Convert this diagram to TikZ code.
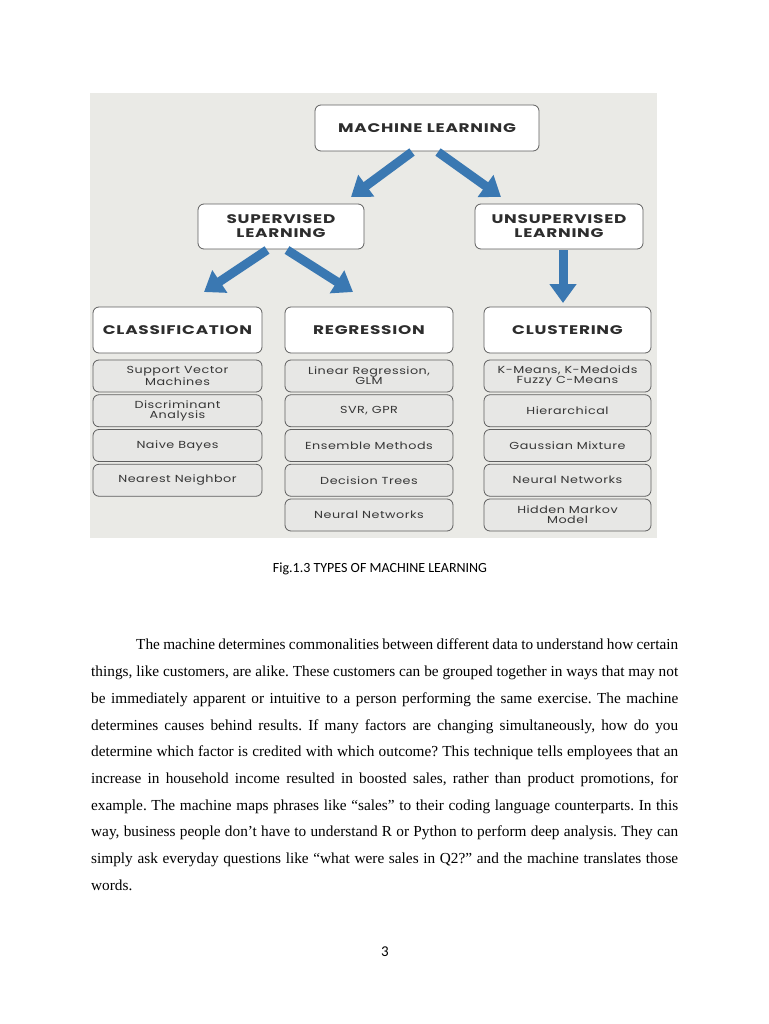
\documentclass[tikz,border=0pt]{standalone}
\usepackage{fontspec}
\setmainfont{Liberation Serif}
\newfontfamily\capfont{Carlito}
\newfontfamily\headfont[FakeStretch=1.35,LetterSpace=6]{Poppins}
\newfontfamily\itemfont[FakeStretch=1.25,LetterSpace=5]{Poppins}
\usepackage{tikz}
\usetikzlibrary{arrows.meta,positioning,calc}
\definecolor{mlblue}{RGB}{58,120,178}
\definecolor{panelgray}{RGB}{234,234,230}
\definecolor{rowgray}{RGB}{231,231,229}
\definecolor{boxline}{RGB}{95,95,95}
\definecolor{headtext}{RGB}{45,45,45}
\definecolor{itemtext}{RGB}{55,55,55}

\begin{document}
\frenchspacing
\begin{tikzpicture}[x=1pt, y=-1pt]
	\tikzstyle{box}=[draw=boxline, line width=0.8pt, rounded corners=6pt,
		fill=white, outer sep=0pt, align=center]
	\tikzstyle{headbox}=[box, text=headtext, minimum height=46pt,
		font=\headfont\bfseries\fontsize{12.5}{14}\selectfont]
	\tikzstyle{itembox}=[box, fill=rowgray, text=itemtext, minimum height=32pt,
		inner sep=2pt, font=\itemfont\fontsize{10.2}{10}\selectfont]
	\tikzstyle{classrow}=[itembox, minimum width=169pt]
	\tikzstyle{regrow}=[itembox, minimum width=168pt]
	\tikzstyle{clustrow}=[itembox, minimum width=167pt]
	\tikzstyle{bluearrow}=[draw=mlblue, line width=9pt,
		-{Triangle[width=26pt,length=19pt]}]
	\useasboundingbox (0,0) rectangle (768,1024);
	% figure panel
	\fill[panelgray] (90,93) rectangle (657,538);
	% % Nodes
	% top levels
	\node[headbox, minimum width=224pt] (ml) at (427,128) {MACHINE LEARNING};
	\node[headbox, minimum width=166pt, minimum height=45pt] (sup) at (281,226.5)
	{SUPERVISED\\LEARNING};
	\node[headbox, minimum width=168pt, minimum height=45pt] (unsup) at (559,226.5)
	{UNSUPERVISED\\LEARNING};
	% column heads
	\node[headbox, minimum width=169pt] (class) at (177.5,330) {CLASSIFICATION};
	\node[headbox, minimum width=168pt] (reg) at (369,330) {REGRESSION};
	\node[headbox, minimum width=167pt] (clust) at (567.5,330) {CLUSTERING};
	% classification
	\node[classrow, below=7pt of class] (class1) {Support Vector\\Machines};
	\node[classrow, below=2.75pt of class1] (class2) {Discriminant\\Analysis};
	\node[classrow, below=2.75pt of class2] (class3) {Naive Bayes};
	\node[classrow, below=2.75pt of class3] (class4) {Nearest Neighbor};
	% regression
	\node[regrow, below=7pt of reg] (reg1) {Linear Regression,\\GLM};
	\node[regrow, below=2.75pt of reg1] (reg2) {SVR, GPR};
	\node[regrow, below=2.75pt of reg2] (reg3) {Ensemble Methods};
	\node[regrow, below=2.75pt of reg3] (reg4) {Decision Trees};
	\node[regrow, below=2.75pt of reg4] (reg5) {Neural Networks};
	% clustering
	\node[clustrow, below=7pt of clust] (clust1) {K-Means, K-Medoids\\Fuzzy C-Means};
	\node[clustrow, below=2.75pt of clust1] (clust2) {Hierarchical};
	\node[clustrow, below=2.75pt of clust2] (clust3) {Gaussian Mixture};
	\node[clustrow, below=2.75pt of clust3] (clust4) {Neural Networks};
	\node[clustrow, below=2.75pt of clust4] (clust5) {Hidden Markov\\Model};
	% caption
	\node[font=\capfont\fontsize{14}{16}\selectfont] (caption) at (380,569)
	{Fig.1.3 TYPES OF MACHINE LEARNING};
	% body text
	\node[anchor=north west, inner sep=0pt, text width=587pt, align=justify,
		font=\fontsize{15.3}{26.7}\selectfont] (body) at (91,639)
	{\hspace*{45pt}The machine determines commonalities between different data to understand how certain\linebreak
	things, like customers, are alike. These customers can be grouped together in ways that may not\linebreak
	be immediately apparent or intuitive to a person performing the same exercise. The machine\linebreak
	determines causes behind results. If many factors are changing simultaneously, how do you\linebreak
	determine which factor is credited with which outcome? This technique tells employees that an\linebreak
	increase in household income resulted in boosted sales, rather than product promotions, for\linebreak
	example. The machine maps phrases like “sales” to their coding language counterparts. In this\linebreak
	way, business people don’t have to understand R or Python to perform deep analysis. They can\linebreak
	simply ask everyday questions like “what were sales in Q2?” and the machine translates those\linebreak
	words.};
	% page number
	\node[font=\capfont\fontsize{15}{18}\selectfont] (page) at (385,952) {3};
	% % Connectors
	\draw[bluearrow] ($(ml.south)+(-15,1)$) -- ($(sup.north)+(70,-7)$);
	\draw[bluearrow] ($(ml.south)+(11,1)$) -- ($(unsup.north)+(-58,-7)$);
	\draw[bluearrow] ($(sup.south)+(-14,1)$) -- ($(class.north)+(26.5,-15)$);
	\draw[bluearrow] ($(sup.south)+(6,1)$) -- ($(reg.north)+(-16,-15)$);
	\draw[bluearrow] ($(unsup.south)+(4,1)$) -- ($(clust.north)+(-4.5,-4)$);
\end{tikzpicture}
\end{document}
